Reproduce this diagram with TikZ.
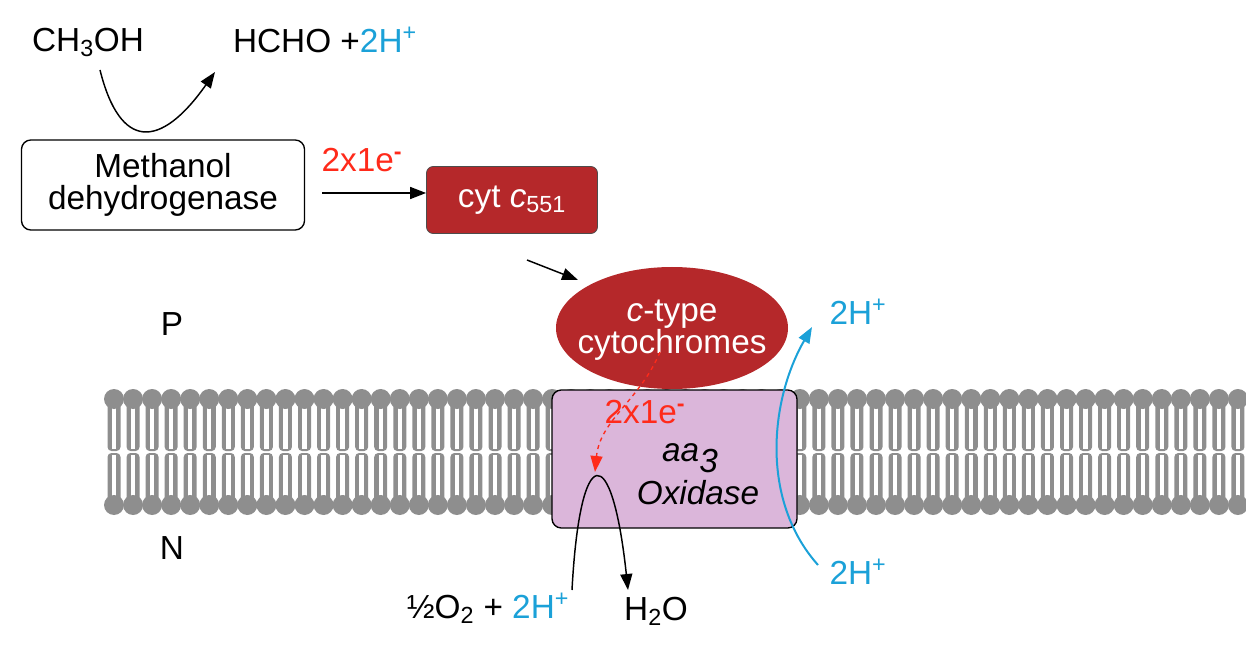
\documentclass[tikz,border=0pt]{standalone}
\usepackage{fontspec}
\setmainfont{Liberation Sans}
\usetikzlibrary{arrows.meta,shapes.geometric}
\definecolor{dred}{HTML}{B5282A}
\definecolor{bred}{HTML}{FF2A1A}
\definecolor{cb}{HTML}{1BA1D8}
\definecolor{lip}{HTML}{8E8E8E}
\definecolor{pk}{HTML}{DBB6DA}
\tikzset{txt/.style={font=\fontsize{25}{27}\selectfont,inner sep=0pt},
 arr/.style={-{Triangle[length=12pt,width=9pt]},line width=1.1pt},
 lipid/.pic={\fill[lip,rounded corners=3pt] (-6.5,-54) rectangle (6.5,0);
   \fill[white] (-2.2,-44) rectangle (2.2,-2);
   \fill[lip] (0,-52) circle (7.5pt);}}
\begin{document}
\begin{tikzpicture}[x=0.75pt,y=-0.75pt]
\useasboundingbox (0,0) rectangle (1246,652);
% membrane
\foreach \i in {0,...,59}{
  \pgfmathsetmacro\xx{114+19.05*\i}
  \path (\xx,451) pic {lipid};
  \path (\xx,453) pic[yscale=-1] {lipid};
}
\node[txt] (p) at (172,324) {P};
\node[txt] (n) at (172,548) {N};
% top reaction
\node[txt] (meoh) at (88,42) {CH\textsubscript{3}OH};
\node[txt] (hcho) at (325,40) {HCHO +\textcolor{cb}{2H\textsuperscript{+}}};
\node[draw,line width=1pt,rounded corners=7pt,fill=white,minimum width=212.25pt,minimum height=67.5pt,txt,align=center] (mdh) at (163,185) {Methanol\\[-3pt]dehydrogenase};
\draw[arr] (100,70) .. controls (120,150) and (160,150) .. (215,72);
\node[txt,text=bred] (e1) at (362,160) {2x1e\textsuperscript{\textbf{-}}};
\coordinate (a1) at (322,193);
\node[fill=dred,draw=black!70,line width=0.6pt,rounded corners=5pt,minimum width=128.25pt,minimum height=50.25pt,txt,text=white] (cyt) at (512,200) {cyt \textit{c}\textsubscript{551}};
\draw[arr] (a1) -- (cyt.west|-a1);
\coordinate (a2s) at (527,260);
\coordinate (a2e) at (578,280);
\draw[arr] (a2s) -- (a2e);
% oxidase
\node[draw,line width=1pt,fill=pk,rounded corners=7pt,minimum width=183.75pt,minimum height=103.5pt] (ox) at (674.5,459) {};
\node[fill=dred,ellipse,minimum width=174pt,minimum height=91.5pt,inner sep=0pt] (ct) at (672,328) {};
\node[txt,text=white,align=center] (ctt) at (672,330) {\textit{c}-type\\[-3pt]cytochromes};
\node[txt,text=bred] (e2) at (645,412) {2x1e\textsuperscript{\textbf{-}}};
\draw[bred,dashed,line width=1pt,-{Triangle[length=12pt,width=9pt]}] (660,352) .. controls (640,400) and (600,420) .. (595,472);
\node[txt,font=\fontsize{25}{27}\selectfont\itshape] (aa) at (690,458) {aa\raisebox{-8pt}{3}};
\node[txt,font=\fontsize{25}{27}\selectfont\itshape] (oxt) at (698,493) {Oxidase};
% water formation
\node[txt] (o2) at (488,608) {½O\textsubscript{2} + \textcolor{cb}{2H\textsuperscript{+}}};
\node[txt] (h2o) at (656,611) {H\textsubscript{2}O};
\draw[arr] (572,590) .. controls (580,440) and (612,440) .. (628,590);
% proton pump
\node[txt,text=cb] (hb) at (858,572) {2H\textsuperscript{+}};
\node[txt,text=cb] (ht) at (858,312) {2H\textsuperscript{+}};
\draw[cb,line width=1.5pt,-{Triangle[length=12pt,width=9pt]}] (818,565) .. controls (760,500) and (770,400) .. (812,327);
\end{tikzpicture}
\end{document}
